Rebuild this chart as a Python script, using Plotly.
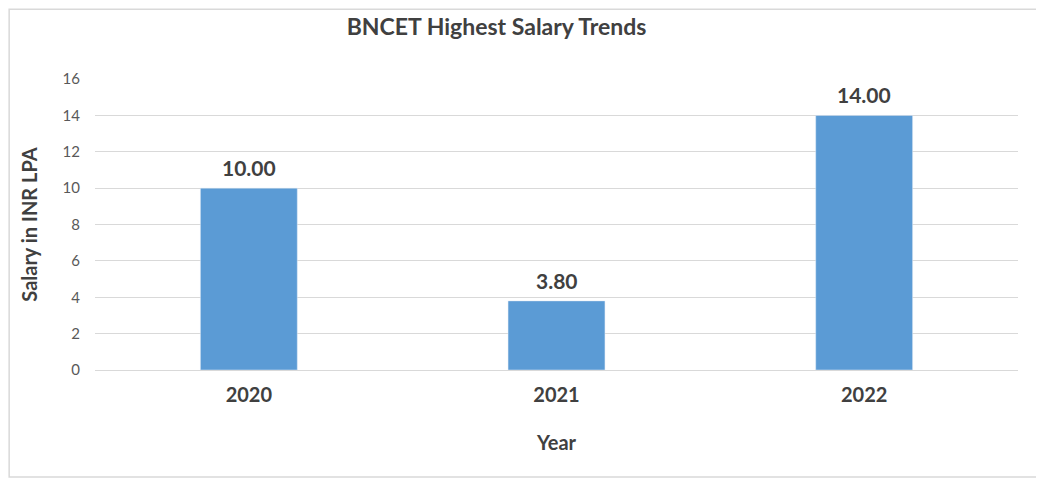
import plotly.graph_objects as go

years = ["2020", "2021", "2022"]
salaries = [10.00, 3.80, 14.00]
labels = ["10.00", "3.80", "14.00"]
y_ticks = [0, 2, 4, 6, 8, 10, 12, 14, 16]

fig = go.Figure(go.Bar(
    x=years, y=salaries,
    marker=dict(color="#5b9bd5"), width=0.315,
))
for i, (v, t) in enumerate(zip(salaries, labels)):
    fig.add_annotation(x=i, y=v, text="<b>%s</b>" % t, showarrow=False, yanchor="bottom", yshift=6,
                       font=dict(size=21, color="#404040", family="Lato"))
fig.update_layout(
    width=1044, height=481,
    paper_bgcolor="white", plot_bgcolor="white",
    margin=dict(l=87, r=34, t=71, b=119),
    title=dict(text="<b>BNCET Highest Salary Trends</b>", x=0.468, xanchor="center",
               y=0.96, yanchor="middle", font=dict(size=23, color="#404040", family="Lato")),
    font=dict(family="Lato", color="#595959"),
    showlegend=False,
    shapes=[dict(type="rect", xref="paper", yref="paper", x0=-0.093, x1=1.024, y0=-0.368, y1=1.24,
                 line=dict(color="#d9d9d9", width=1.5))],
)
fig.update_xaxes(type="category", showline=True, linecolor="#d9d9d9", ticks="", ticklabelstandoff=7,
                 tickfont=dict(size=20, color="#404040", family="Lato", weight="bold"),
                 title=dict(text="<b>Year</b>", font=dict(size=20, color="#404040"), standoff=30))
fig.update_yaxes(range=[0, 16], tickvals=y_ticks, gridcolor="#d9d9d9", zeroline=False,
                 tickfont=dict(size=15, color="#595959"), ticks="", ticklabelstandoff=14,
                 title=dict(text="<b>Salary in INR LPA</b>", font=dict(size=20, color="#404040"), standoff=19))
fig.write_html("out.html")
